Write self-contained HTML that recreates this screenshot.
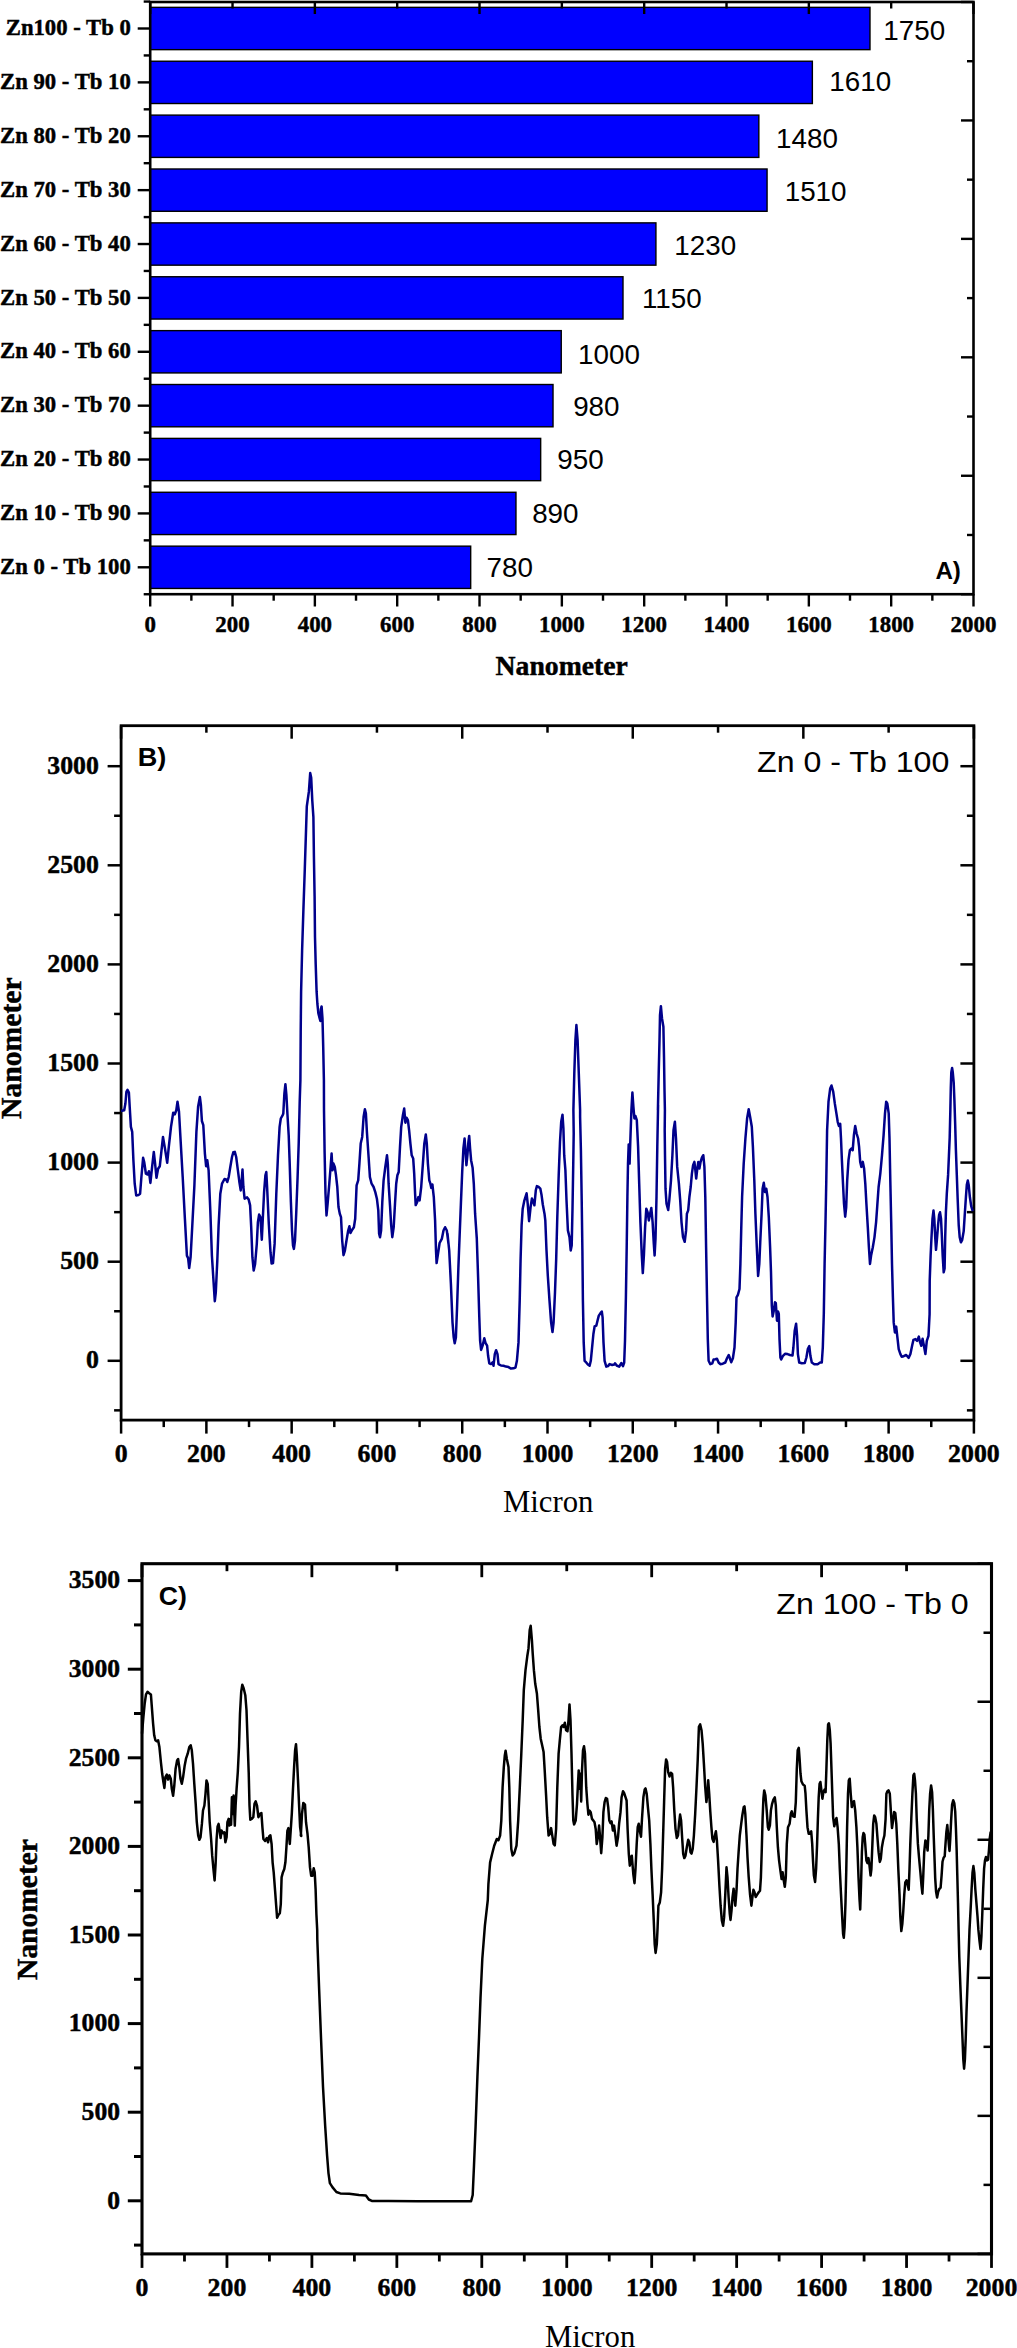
<!DOCTYPE html>
<html><head><meta charset="utf-8"><title>Figure</title>
<style>html,body{margin:0;padding:0;background:#fff}svg{display:block}</style></head>
<body><svg width="1017" height="2348" viewBox="0 0 1017 2348">
<rect width="1017" height="2348" fill="#fff"/>
<rect x="150.20" y="7.35" width="719.79" height="42.30" fill="#0000ff" stroke="#000" stroke-width="1.4"/>
<text x="883.28" y="39.60" font-size="27.8" text-anchor="start" font-family='"Liberation Sans", sans-serif' font-weight="normal" >1750</text>
<text x="130.80" y="35.10" font-size="22.7" text-anchor="end" font-family='"Liberation Serif", serif' font-weight="bold"  stroke="#000" stroke-width="0.45">Zn100 - Tb 0</text>
<line x1="137.70" y1="28.50" x2="150.20" y2="28.50" stroke="#000" stroke-width="2.4"/>
<line x1="143.70" y1="55.44" x2="150.20" y2="55.44" stroke="#000" stroke-width="2.4"/>
<rect x="150.20" y="61.23" width="662.16" height="42.30" fill="#0000ff" stroke="#000" stroke-width="1.4"/>
<text x="829.28" y="91.40" font-size="27.8" text-anchor="start" font-family='"Liberation Sans", sans-serif' font-weight="normal" >1610</text>
<text x="130.80" y="88.98" font-size="22.7" text-anchor="end" font-family='"Liberation Serif", serif' font-weight="bold"  stroke="#000" stroke-width="0.45">Zn 90 - Tb 10</text>
<line x1="137.70" y1="82.38" x2="150.20" y2="82.38" stroke="#000" stroke-width="2.4"/>
<line x1="143.70" y1="109.32" x2="150.20" y2="109.32" stroke="#000" stroke-width="2.4"/>
<rect x="150.20" y="115.11" width="608.64" height="42.30" fill="#0000ff" stroke="#000" stroke-width="1.4"/>
<text x="776.08" y="147.70" font-size="27.8" text-anchor="start" font-family='"Liberation Sans", sans-serif' font-weight="normal" >1480</text>
<text x="130.80" y="142.86" font-size="22.7" text-anchor="end" font-family='"Liberation Serif", serif' font-weight="bold"  stroke="#000" stroke-width="0.45">Zn 80 - Tb 20</text>
<line x1="137.70" y1="136.26" x2="150.20" y2="136.26" stroke="#000" stroke-width="2.4"/>
<line x1="143.70" y1="163.20" x2="150.20" y2="163.20" stroke="#000" stroke-width="2.4"/>
<rect x="150.20" y="168.99" width="616.87" height="42.30" fill="#0000ff" stroke="#000" stroke-width="1.4"/>
<text x="784.68" y="201.20" font-size="27.8" text-anchor="start" font-family='"Liberation Sans", sans-serif' font-weight="normal" >1510</text>
<text x="130.80" y="196.74" font-size="22.7" text-anchor="end" font-family='"Liberation Serif", serif' font-weight="bold"  stroke="#000" stroke-width="0.45">Zn 70 - Tb 30</text>
<line x1="137.70" y1="190.14" x2="150.20" y2="190.14" stroke="#000" stroke-width="2.4"/>
<line x1="143.70" y1="217.08" x2="150.20" y2="217.08" stroke="#000" stroke-width="2.4"/>
<rect x="150.20" y="222.87" width="505.73" height="42.30" fill="#0000ff" stroke="#000" stroke-width="1.4"/>
<text x="674.28" y="255.10" font-size="27.8" text-anchor="start" font-family='"Liberation Sans", sans-serif' font-weight="normal" >1230</text>
<text x="130.80" y="250.62" font-size="22.7" text-anchor="end" font-family='"Liberation Serif", serif' font-weight="bold"  stroke="#000" stroke-width="0.45">Zn 60 - Tb 40</text>
<line x1="137.70" y1="244.02" x2="150.20" y2="244.02" stroke="#000" stroke-width="2.4"/>
<line x1="143.70" y1="270.96" x2="150.20" y2="270.96" stroke="#000" stroke-width="2.4"/>
<rect x="150.20" y="276.75" width="472.80" height="42.30" fill="#0000ff" stroke="#000" stroke-width="1.4"/>
<text x="641.88" y="307.80" font-size="27.8" text-anchor="start" font-family='"Liberation Sans", sans-serif' font-weight="normal" >1150</text>
<text x="130.80" y="304.50" font-size="22.7" text-anchor="end" font-family='"Liberation Serif", serif' font-weight="bold"  stroke="#000" stroke-width="0.45">Zn 50 - Tb 50</text>
<line x1="137.70" y1="297.90" x2="150.20" y2="297.90" stroke="#000" stroke-width="2.4"/>
<line x1="143.70" y1="324.84" x2="150.20" y2="324.84" stroke="#000" stroke-width="2.4"/>
<rect x="150.20" y="330.63" width="411.05" height="42.30" fill="#0000ff" stroke="#000" stroke-width="1.4"/>
<text x="578.08" y="363.60" font-size="27.8" text-anchor="start" font-family='"Liberation Sans", sans-serif' font-weight="normal" >1000</text>
<text x="130.80" y="358.38" font-size="22.7" text-anchor="end" font-family='"Liberation Serif", serif' font-weight="bold"  stroke="#000" stroke-width="0.45">Zn 40 - Tb 60</text>
<line x1="137.70" y1="351.78" x2="150.20" y2="351.78" stroke="#000" stroke-width="2.4"/>
<line x1="143.70" y1="378.72" x2="150.20" y2="378.72" stroke="#000" stroke-width="2.4"/>
<rect x="150.20" y="384.51" width="402.82" height="42.30" fill="#0000ff" stroke="#000" stroke-width="1.4"/>
<text x="573.15" y="415.90" font-size="27.8" text-anchor="start" font-family='"Liberation Sans", sans-serif' font-weight="normal" >980</text>
<text x="130.80" y="412.26" font-size="22.7" text-anchor="end" font-family='"Liberation Serif", serif' font-weight="bold"  stroke="#000" stroke-width="0.45">Zn 30 - Tb 70</text>
<line x1="137.70" y1="405.66" x2="150.20" y2="405.66" stroke="#000" stroke-width="2.4"/>
<line x1="143.70" y1="432.60" x2="150.20" y2="432.60" stroke="#000" stroke-width="2.4"/>
<rect x="150.20" y="438.39" width="390.47" height="42.30" fill="#0000ff" stroke="#000" stroke-width="1.4"/>
<text x="557.35" y="468.80" font-size="27.8" text-anchor="start" font-family='"Liberation Sans", sans-serif' font-weight="normal" >950</text>
<text x="130.80" y="466.14" font-size="22.7" text-anchor="end" font-family='"Liberation Serif", serif' font-weight="bold"  stroke="#000" stroke-width="0.45">Zn 20 - Tb 80</text>
<line x1="137.70" y1="459.54" x2="150.20" y2="459.54" stroke="#000" stroke-width="2.4"/>
<line x1="143.70" y1="486.48" x2="150.20" y2="486.48" stroke="#000" stroke-width="2.4"/>
<rect x="150.20" y="492.27" width="365.77" height="42.30" fill="#0000ff" stroke="#000" stroke-width="1.4"/>
<text x="532.15" y="522.70" font-size="27.8" text-anchor="start" font-family='"Liberation Sans", sans-serif' font-weight="normal" >890</text>
<text x="130.80" y="520.02" font-size="22.7" text-anchor="end" font-family='"Liberation Serif", serif' font-weight="bold"  stroke="#000" stroke-width="0.45">Zn 10 - Tb 90</text>
<line x1="137.70" y1="513.42" x2="150.20" y2="513.42" stroke="#000" stroke-width="2.4"/>
<line x1="143.70" y1="540.36" x2="150.20" y2="540.36" stroke="#000" stroke-width="2.4"/>
<rect x="150.20" y="546.15" width="320.49" height="42.30" fill="#0000ff" stroke="#000" stroke-width="1.4"/>
<text x="486.55" y="577.40" font-size="27.8" text-anchor="start" font-family='"Liberation Sans", sans-serif' font-weight="normal" >780</text>
<text x="130.80" y="573.90" font-size="22.7" text-anchor="end" font-family='"Liberation Serif", serif' font-weight="bold"  stroke="#000" stroke-width="0.45">Zn 0 - Tb 100</text>
<line x1="137.70" y1="567.30" x2="150.20" y2="567.30" stroke="#000" stroke-width="2.4"/>
<line x1="143.70" y1="1.56" x2="150.20" y2="1.56" stroke="#000" stroke-width="2.4"/>
<line x1="143.70" y1="594.24" x2="150.20" y2="594.24" stroke="#000" stroke-width="2.4"/>
<rect x="150.2" y="2.0" width="823.3" height="592.2" fill="none" stroke="#000" stroke-width="2.6"/>
<line x1="150.20" y1="594.20" x2="150.20" y2="606.50" stroke="#000" stroke-width="2.4"/>
<text x="150.20" y="631.60" font-size="22.9" text-anchor="middle" font-family='"Liberation Serif", serif' font-weight="bold"  stroke="#000" stroke-width="0.45">0</text>
<line x1="191.36" y1="594.20" x2="191.36" y2="600.70" stroke="#000" stroke-width="2.4"/>
<line x1="232.53" y1="594.20" x2="232.53" y2="606.50" stroke="#000" stroke-width="2.4"/>
<text x="232.53" y="631.60" font-size="22.9" text-anchor="middle" font-family='"Liberation Serif", serif' font-weight="bold"  stroke="#000" stroke-width="0.45">200</text>
<line x1="273.69" y1="594.20" x2="273.69" y2="600.70" stroke="#000" stroke-width="2.4"/>
<line x1="314.86" y1="594.20" x2="314.86" y2="606.50" stroke="#000" stroke-width="2.4"/>
<text x="314.86" y="631.60" font-size="22.9" text-anchor="middle" font-family='"Liberation Serif", serif' font-weight="bold"  stroke="#000" stroke-width="0.45">400</text>
<line x1="356.02" y1="594.20" x2="356.02" y2="600.70" stroke="#000" stroke-width="2.4"/>
<line x1="397.19" y1="594.20" x2="397.19" y2="606.50" stroke="#000" stroke-width="2.4"/>
<text x="397.19" y="631.60" font-size="22.9" text-anchor="middle" font-family='"Liberation Serif", serif' font-weight="bold"  stroke="#000" stroke-width="0.45">600</text>
<line x1="438.35" y1="594.20" x2="438.35" y2="600.70" stroke="#000" stroke-width="2.4"/>
<line x1="479.52" y1="594.20" x2="479.52" y2="606.50" stroke="#000" stroke-width="2.4"/>
<text x="479.52" y="631.60" font-size="22.9" text-anchor="middle" font-family='"Liberation Serif", serif' font-weight="bold"  stroke="#000" stroke-width="0.45">800</text>
<line x1="520.68" y1="594.20" x2="520.68" y2="600.70" stroke="#000" stroke-width="2.4"/>
<line x1="561.85" y1="594.20" x2="561.85" y2="606.50" stroke="#000" stroke-width="2.4"/>
<text x="561.85" y="631.60" font-size="22.9" text-anchor="middle" font-family='"Liberation Serif", serif' font-weight="bold"  stroke="#000" stroke-width="0.45">1000</text>
<line x1="603.01" y1="594.20" x2="603.01" y2="600.70" stroke="#000" stroke-width="2.4"/>
<line x1="644.18" y1="594.20" x2="644.18" y2="606.50" stroke="#000" stroke-width="2.4"/>
<text x="644.18" y="631.60" font-size="22.9" text-anchor="middle" font-family='"Liberation Serif", serif' font-weight="bold"  stroke="#000" stroke-width="0.45">1200</text>
<line x1="685.35" y1="594.20" x2="685.35" y2="600.70" stroke="#000" stroke-width="2.4"/>
<line x1="726.51" y1="594.20" x2="726.51" y2="606.50" stroke="#000" stroke-width="2.4"/>
<text x="726.51" y="631.60" font-size="22.9" text-anchor="middle" font-family='"Liberation Serif", serif' font-weight="bold"  stroke="#000" stroke-width="0.45">1400</text>
<line x1="767.67" y1="594.20" x2="767.67" y2="600.70" stroke="#000" stroke-width="2.4"/>
<line x1="808.84" y1="594.20" x2="808.84" y2="606.50" stroke="#000" stroke-width="2.4"/>
<text x="808.84" y="631.60" font-size="22.9" text-anchor="middle" font-family='"Liberation Serif", serif' font-weight="bold"  stroke="#000" stroke-width="0.45">1600</text>
<line x1="850.00" y1="594.20" x2="850.00" y2="600.70" stroke="#000" stroke-width="2.4"/>
<line x1="891.17" y1="594.20" x2="891.17" y2="606.50" stroke="#000" stroke-width="2.4"/>
<text x="891.17" y="631.60" font-size="22.9" text-anchor="middle" font-family='"Liberation Serif", serif' font-weight="bold"  stroke="#000" stroke-width="0.45">1800</text>
<line x1="932.34" y1="594.20" x2="932.34" y2="600.70" stroke="#000" stroke-width="2.4"/>
<line x1="973.50" y1="594.20" x2="973.50" y2="606.50" stroke="#000" stroke-width="2.4"/>
<text x="973.50" y="631.60" font-size="22.9" text-anchor="middle" font-family='"Liberation Serif", serif' font-weight="bold"  stroke="#000" stroke-width="0.45">2000</text>
<line x1="150.20" y1="2.00" x2="150.20" y2="14.00" stroke="#000" stroke-width="2.4"/>
<line x1="232.53" y1="2.00" x2="232.53" y2="8.50" stroke="#000" stroke-width="2.4"/>
<line x1="314.86" y1="2.00" x2="314.86" y2="14.00" stroke="#000" stroke-width="2.4"/>
<line x1="397.19" y1="2.00" x2="397.19" y2="8.50" stroke="#000" stroke-width="2.4"/>
<line x1="479.52" y1="2.00" x2="479.52" y2="14.00" stroke="#000" stroke-width="2.4"/>
<line x1="561.85" y1="2.00" x2="561.85" y2="8.50" stroke="#000" stroke-width="2.4"/>
<line x1="644.18" y1="2.00" x2="644.18" y2="14.00" stroke="#000" stroke-width="2.4"/>
<line x1="726.51" y1="2.00" x2="726.51" y2="8.50" stroke="#000" stroke-width="2.4"/>
<line x1="808.84" y1="2.00" x2="808.84" y2="14.00" stroke="#000" stroke-width="2.4"/>
<line x1="891.17" y1="2.00" x2="891.17" y2="8.50" stroke="#000" stroke-width="2.4"/>
<line x1="973.50" y1="2.00" x2="973.50" y2="14.00" stroke="#000" stroke-width="2.4"/>
<line x1="961.00" y1="2.00" x2="973.50" y2="2.00" stroke="#000" stroke-width="2.4"/>
<line x1="967.00" y1="61.22" x2="973.50" y2="61.22" stroke="#000" stroke-width="2.4"/>
<line x1="961.00" y1="120.44" x2="973.50" y2="120.44" stroke="#000" stroke-width="2.4"/>
<line x1="967.00" y1="179.66" x2="973.50" y2="179.66" stroke="#000" stroke-width="2.4"/>
<line x1="961.00" y1="238.88" x2="973.50" y2="238.88" stroke="#000" stroke-width="2.4"/>
<line x1="967.00" y1="298.10" x2="973.50" y2="298.10" stroke="#000" stroke-width="2.4"/>
<line x1="961.00" y1="357.32" x2="973.50" y2="357.32" stroke="#000" stroke-width="2.4"/>
<line x1="967.00" y1="416.54" x2="973.50" y2="416.54" stroke="#000" stroke-width="2.4"/>
<line x1="961.00" y1="475.76" x2="973.50" y2="475.76" stroke="#000" stroke-width="2.4"/>
<line x1="967.00" y1="534.98" x2="973.50" y2="534.98" stroke="#000" stroke-width="2.4"/>
<line x1="961.00" y1="594.20" x2="973.50" y2="594.20" stroke="#000" stroke-width="2.4"/>
<text x="561.70" y="675.40" font-size="27.7" text-anchor="middle" font-family='"Liberation Serif", serif' font-weight="bold"  stroke="#000" stroke-width="0.45">Nanometer</text>
<text x="935.40" y="578.60" font-size="24.2" text-anchor="start" font-family='"Liberation Sans", sans-serif' font-weight="bold" >A)</text>
<rect x="121.1" y="725.7" width="852.8" height="694.3999999999999" fill="none" stroke="#000" stroke-width="2.8"/>
<line x1="121.10" y1="1420.10" x2="121.10" y2="1433.60" stroke="#000" stroke-width="2.5"/>
<text x="121.10" y="1461.60" font-size="25.8" text-anchor="middle" font-family='"Liberation Serif", serif' font-weight="bold"  stroke="#000" stroke-width="0.45">0</text>
<line x1="163.74" y1="1420.10" x2="163.74" y2="1427.10" stroke="#000" stroke-width="2.5"/>
<line x1="206.38" y1="1420.10" x2="206.38" y2="1433.60" stroke="#000" stroke-width="2.5"/>
<text x="206.38" y="1461.60" font-size="25.8" text-anchor="middle" font-family='"Liberation Serif", serif' font-weight="bold"  stroke="#000" stroke-width="0.45">200</text>
<line x1="249.02" y1="1420.10" x2="249.02" y2="1427.10" stroke="#000" stroke-width="2.5"/>
<line x1="291.66" y1="1420.10" x2="291.66" y2="1433.60" stroke="#000" stroke-width="2.5"/>
<text x="291.66" y="1461.60" font-size="25.8" text-anchor="middle" font-family='"Liberation Serif", serif' font-weight="bold"  stroke="#000" stroke-width="0.45">400</text>
<line x1="334.30" y1="1420.10" x2="334.30" y2="1427.10" stroke="#000" stroke-width="2.5"/>
<line x1="376.94" y1="1420.10" x2="376.94" y2="1433.60" stroke="#000" stroke-width="2.5"/>
<text x="376.94" y="1461.60" font-size="25.8" text-anchor="middle" font-family='"Liberation Serif", serif' font-weight="bold"  stroke="#000" stroke-width="0.45">600</text>
<line x1="419.58" y1="1420.10" x2="419.58" y2="1427.10" stroke="#000" stroke-width="2.5"/>
<line x1="462.22" y1="1420.10" x2="462.22" y2="1433.60" stroke="#000" stroke-width="2.5"/>
<text x="462.22" y="1461.60" font-size="25.8" text-anchor="middle" font-family='"Liberation Serif", serif' font-weight="bold"  stroke="#000" stroke-width="0.45">800</text>
<line x1="504.86" y1="1420.10" x2="504.86" y2="1427.10" stroke="#000" stroke-width="2.5"/>
<line x1="547.50" y1="1420.10" x2="547.50" y2="1433.60" stroke="#000" stroke-width="2.5"/>
<text x="547.50" y="1461.60" font-size="25.8" text-anchor="middle" font-family='"Liberation Serif", serif' font-weight="bold"  stroke="#000" stroke-width="0.45">1000</text>
<line x1="590.14" y1="1420.10" x2="590.14" y2="1427.10" stroke="#000" stroke-width="2.5"/>
<line x1="632.78" y1="1420.10" x2="632.78" y2="1433.60" stroke="#000" stroke-width="2.5"/>
<text x="632.78" y="1461.60" font-size="25.8" text-anchor="middle" font-family='"Liberation Serif", serif' font-weight="bold"  stroke="#000" stroke-width="0.45">1200</text>
<line x1="675.42" y1="1420.10" x2="675.42" y2="1427.10" stroke="#000" stroke-width="2.5"/>
<line x1="718.06" y1="1420.10" x2="718.06" y2="1433.60" stroke="#000" stroke-width="2.5"/>
<text x="718.06" y="1461.60" font-size="25.8" text-anchor="middle" font-family='"Liberation Serif", serif' font-weight="bold"  stroke="#000" stroke-width="0.45">1400</text>
<line x1="760.70" y1="1420.10" x2="760.70" y2="1427.10" stroke="#000" stroke-width="2.5"/>
<line x1="803.34" y1="1420.10" x2="803.34" y2="1433.60" stroke="#000" stroke-width="2.5"/>
<text x="803.34" y="1461.60" font-size="25.8" text-anchor="middle" font-family='"Liberation Serif", serif' font-weight="bold"  stroke="#000" stroke-width="0.45">1600</text>
<line x1="845.98" y1="1420.10" x2="845.98" y2="1427.10" stroke="#000" stroke-width="2.5"/>
<line x1="888.62" y1="1420.10" x2="888.62" y2="1433.60" stroke="#000" stroke-width="2.5"/>
<text x="888.62" y="1461.60" font-size="25.8" text-anchor="middle" font-family='"Liberation Serif", serif' font-weight="bold"  stroke="#000" stroke-width="0.45">1800</text>
<line x1="931.26" y1="1420.10" x2="931.26" y2="1427.10" stroke="#000" stroke-width="2.5"/>
<line x1="973.90" y1="1420.10" x2="973.90" y2="1433.60" stroke="#000" stroke-width="2.5"/>
<text x="973.90" y="1461.60" font-size="25.8" text-anchor="middle" font-family='"Liberation Serif", serif' font-weight="bold"  stroke="#000" stroke-width="0.45">2000</text>
<line x1="121.10" y1="725.70" x2="121.10" y2="738.70" stroke="#000" stroke-width="2.5"/>
<line x1="206.38" y1="725.70" x2="206.38" y2="732.70" stroke="#000" stroke-width="2.5"/>
<line x1="291.66" y1="725.70" x2="291.66" y2="738.70" stroke="#000" stroke-width="2.5"/>
<line x1="376.94" y1="725.70" x2="376.94" y2="732.70" stroke="#000" stroke-width="2.5"/>
<line x1="462.22" y1="725.70" x2="462.22" y2="738.70" stroke="#000" stroke-width="2.5"/>
<line x1="547.50" y1="725.70" x2="547.50" y2="732.70" stroke="#000" stroke-width="2.5"/>
<line x1="632.78" y1="725.70" x2="632.78" y2="738.70" stroke="#000" stroke-width="2.5"/>
<line x1="718.06" y1="725.70" x2="718.06" y2="732.70" stroke="#000" stroke-width="2.5"/>
<line x1="803.34" y1="725.70" x2="803.34" y2="738.70" stroke="#000" stroke-width="2.5"/>
<line x1="888.62" y1="725.70" x2="888.62" y2="732.70" stroke="#000" stroke-width="2.5"/>
<line x1="973.90" y1="725.70" x2="973.90" y2="738.70" stroke="#000" stroke-width="2.5"/>
<line x1="114.10" y1="1410.35" x2="121.10" y2="1410.35" stroke="#000" stroke-width="2.5"/>
<line x1="966.90" y1="1410.35" x2="973.90" y2="1410.35" stroke="#000" stroke-width="2.5"/>
<line x1="107.60" y1="1360.80" x2="121.10" y2="1360.80" stroke="#000" stroke-width="2.5"/>
<line x1="960.40" y1="1360.80" x2="973.90" y2="1360.80" stroke="#000" stroke-width="2.5"/>
<text x="98.90" y="1368.40" font-size="25.8" text-anchor="end" font-family='"Liberation Serif", serif' font-weight="bold"  stroke="#000" stroke-width="0.45">0</text>
<line x1="114.10" y1="1311.25" x2="121.10" y2="1311.25" stroke="#000" stroke-width="2.5"/>
<line x1="966.90" y1="1311.25" x2="973.90" y2="1311.25" stroke="#000" stroke-width="2.5"/>
<line x1="107.60" y1="1261.70" x2="121.10" y2="1261.70" stroke="#000" stroke-width="2.5"/>
<line x1="960.40" y1="1261.70" x2="973.90" y2="1261.70" stroke="#000" stroke-width="2.5"/>
<text x="98.90" y="1269.30" font-size="25.8" text-anchor="end" font-family='"Liberation Serif", serif' font-weight="bold"  stroke="#000" stroke-width="0.45">500</text>
<line x1="114.10" y1="1212.15" x2="121.10" y2="1212.15" stroke="#000" stroke-width="2.5"/>
<line x1="966.90" y1="1212.15" x2="973.90" y2="1212.15" stroke="#000" stroke-width="2.5"/>
<line x1="107.60" y1="1162.60" x2="121.10" y2="1162.60" stroke="#000" stroke-width="2.5"/>
<line x1="960.40" y1="1162.60" x2="973.90" y2="1162.60" stroke="#000" stroke-width="2.5"/>
<text x="98.90" y="1170.20" font-size="25.8" text-anchor="end" font-family='"Liberation Serif", serif' font-weight="bold"  stroke="#000" stroke-width="0.45">1000</text>
<line x1="114.10" y1="1113.05" x2="121.10" y2="1113.05" stroke="#000" stroke-width="2.5"/>
<line x1="966.90" y1="1113.05" x2="973.90" y2="1113.05" stroke="#000" stroke-width="2.5"/>
<line x1="107.60" y1="1063.50" x2="121.10" y2="1063.50" stroke="#000" stroke-width="2.5"/>
<line x1="960.40" y1="1063.50" x2="973.90" y2="1063.50" stroke="#000" stroke-width="2.5"/>
<text x="98.90" y="1071.10" font-size="25.8" text-anchor="end" font-family='"Liberation Serif", serif' font-weight="bold"  stroke="#000" stroke-width="0.45">1500</text>
<line x1="114.10" y1="1013.95" x2="121.10" y2="1013.95" stroke="#000" stroke-width="2.5"/>
<line x1="966.90" y1="1013.95" x2="973.90" y2="1013.95" stroke="#000" stroke-width="2.5"/>
<line x1="107.60" y1="964.40" x2="121.10" y2="964.40" stroke="#000" stroke-width="2.5"/>
<line x1="960.40" y1="964.40" x2="973.90" y2="964.40" stroke="#000" stroke-width="2.5"/>
<text x="98.90" y="972.00" font-size="25.8" text-anchor="end" font-family='"Liberation Serif", serif' font-weight="bold"  stroke="#000" stroke-width="0.45">2000</text>
<line x1="114.10" y1="914.85" x2="121.10" y2="914.85" stroke="#000" stroke-width="2.5"/>
<line x1="966.90" y1="914.85" x2="973.90" y2="914.85" stroke="#000" stroke-width="2.5"/>
<line x1="107.60" y1="865.30" x2="121.10" y2="865.30" stroke="#000" stroke-width="2.5"/>
<line x1="960.40" y1="865.30" x2="973.90" y2="865.30" stroke="#000" stroke-width="2.5"/>
<text x="98.90" y="872.90" font-size="25.8" text-anchor="end" font-family='"Liberation Serif", serif' font-weight="bold"  stroke="#000" stroke-width="0.45">2500</text>
<line x1="114.10" y1="815.75" x2="121.10" y2="815.75" stroke="#000" stroke-width="2.5"/>
<line x1="966.90" y1="815.75" x2="973.90" y2="815.75" stroke="#000" stroke-width="2.5"/>
<line x1="107.60" y1="766.20" x2="121.10" y2="766.20" stroke="#000" stroke-width="2.5"/>
<line x1="960.40" y1="766.20" x2="973.90" y2="766.20" stroke="#000" stroke-width="2.5"/>
<text x="98.90" y="773.80" font-size="25.8" text-anchor="end" font-family='"Liberation Serif", serif' font-weight="bold"  stroke="#000" stroke-width="0.45">3000</text>
<text x="548.20" y="1511.80" font-size="30.7" text-anchor="middle" font-family='"Liberation Serif", serif' font-weight="normal" >Micron</text>
<text transform="translate(21.1,1048.2) rotate(-90)" font-size="29.7" text-anchor="middle" font-family='"Liberation Serif", serif' font-weight="bold" stroke="#000" stroke-width="0.45">Nanometer</text>
<text x="137.80" y="766.40" font-size="26.6" text-anchor="start" font-family='"Liberation Sans", sans-serif' font-weight="bold" textLength="28.6" lengthAdjust="spacingAndGlyphs">B)</text>
<text x="757.00" y="772.10" font-size="30.3" text-anchor="start" font-family='"Liberation Sans", sans-serif' font-weight="normal" textLength="192.3" lengthAdjust="spacingAndGlyphs">Zn 0 - Tb 100</text>
<polyline fill="none" stroke="#00008b" stroke-width="2.5" stroke-linejoin="round" points="121.0,1111.0 124.2,1110.2 125.4,1103.5 126.4,1091.8 127.5,1089.8 128.9,1092.6 129.7,1106.8 130.9,1126.9 132.2,1131.9 133.4,1160.3 134.7,1183.7 136.2,1195.4 138.4,1195.1 140.1,1193.7 141.4,1177.0 143.1,1157.8 144.2,1162.0 145.9,1173.7 147.6,1174.5 148.9,1171.2 150.4,1182.9 152.1,1167.0 153.8,1151.9 155.1,1163.6 156.5,1177.8 158.1,1168.7 159.8,1166.2 161.5,1150.3 163.0,1136.9 164.7,1146.9 167.2,1162.8 168.8,1146.9 171.0,1126.9 173.2,1112.7 174.8,1114.3 176.3,1110.2 177.5,1101.8 179.0,1111.8 180.5,1138.6 182.7,1177.0 184.9,1218.8 186.9,1255.6 188.1,1258.1 189.2,1268.1 190.6,1257.2 192.2,1227.2 194.4,1185.4 196.4,1131.9 198.1,1106.8 199.9,1097.1 200.9,1105.1 201.9,1121.0 203.3,1125.2 204.9,1153.6 206.1,1166.2 207.3,1160.3 208.6,1170.3 210.3,1210.4 211.9,1255.6 213.6,1282.3 214.8,1301.2 215.8,1292.3 217.3,1260.6 218.6,1225.5 220.3,1193.7 222.0,1183.7 224.5,1179.0 226.2,1179.5 227.3,1182.0 228.7,1177.0 230.3,1167.0 232.0,1157.0 233.3,1152.3 234.8,1151.9 236.2,1157.0 237.9,1170.3 239.5,1182.9 240.7,1190.4 241.7,1180.3 242.5,1169.5 243.4,1187.0 244.6,1198.7 247.1,1197.4 248.7,1199.6 250.1,1205.4 251.2,1227.2 252.4,1257.2 253.7,1270.6 255.1,1263.9 256.8,1243.9 257.9,1222.1 259.1,1214.6 260.4,1217.1 261.8,1239.7 262.8,1218.8 264.1,1192.1 265.4,1175.3 266.3,1172.0 267.1,1187.0 268.8,1223.8 270.5,1252.2 271.6,1263.6 273.0,1263.1 274.6,1243.9 276.3,1193.7 278.0,1155.3 279.6,1126.9 280.8,1118.5 282.7,1115.2 283.3,1113.5 284.4,1093.4 285.4,1084.2 286.4,1095.1 287.5,1115.2 288.7,1135.2 289.7,1163.6 290.9,1202.1 292.0,1230.5 293.0,1245.5 293.9,1248.9 295.0,1240.5 296.2,1213.8 297.6,1177.0 298.7,1143.6 299.7,1101.8 300.4,1080.1 300.7,1032.6 301.1,991.7 302.1,950.8 303.4,909.9 304.8,869.0 306.1,828.1 306.8,806.3 308.9,791.4 310.2,773.0 311.2,777.7 312.3,800.9 313.4,817.2 313.9,855.4 314.6,896.3 315.0,937.2 315.7,964.4 316.6,991.7 317.4,1004.0 318.4,1013.5 319.8,1018.9 320.4,1021.0 320.9,1009.4 321.6,1006.4 322.5,1018.9 323.2,1046.2 323.9,1080.0 324.0,1110.2 324.6,1151.9 325.5,1193.7 326.5,1215.5 327.6,1203.8 329.3,1183.7 330.6,1167.0 331.6,1153.6 332.5,1170.3 333.5,1163.6 334.8,1167.0 336.0,1175.3 337.3,1187.0 338.5,1207.1 339.8,1213.8 341.0,1217.1 342.2,1240.5 343.5,1255.2 344.9,1250.6 346.5,1240.5 348.2,1230.5 349.4,1226.3 350.5,1233.0 352.2,1229.7 353.9,1227.2 355.2,1218.8 356.6,1185.4 358.2,1180.3 359.4,1163.6 360.7,1143.6 362.2,1136.9 363.6,1116.8 364.9,1109.3 365.9,1113.5 366.9,1131.9 368.6,1157.0 369.9,1177.0 371.6,1183.7 373.6,1187.0 375.3,1192.1 376.9,1198.7 378.3,1210.4 379.1,1233.8 380.0,1237.2 381.1,1230.5 382.3,1202.1 383.6,1180.3 385.3,1167.0 387.0,1155.3 387.8,1163.6 388.6,1183.7 390.0,1205.4 391.2,1225.5 392.3,1237.2 393.7,1227.2 395.0,1203.8 396.2,1183.7 397.4,1175.3 398.7,1172.0 400.0,1146.9 401.2,1126.9 402.9,1115.2 404.2,1108.5 405.4,1122.7 406.5,1117.7 407.9,1120.2 409.1,1130.2 410.4,1143.6 411.7,1155.3 413.2,1158.6 414.2,1173.7 415.1,1193.7 415.7,1205.1 417.1,1202.1 418.4,1197.1 419.6,1200.4 421.2,1187.0 422.9,1163.6 424.3,1143.6 425.8,1134.4 426.8,1143.6 427.9,1163.6 429.3,1180.3 430.4,1183.7 431.3,1187.9 432.4,1184.5 433.8,1197.1 435.1,1220.5 436.0,1250.6 436.6,1263.1 438.0,1253.9 439.6,1243.0 441.8,1238.9 443.5,1230.5 445.1,1227.2 446.8,1230.5 448.5,1243.9 447.5,1233.7 449.2,1250.4 450.9,1283.9 452.5,1322.3 453.7,1337.4 454.7,1343.2 455.9,1337.4 457.0,1309.0 458.4,1267.2 459.7,1233.7 460.9,1203.6 462.2,1171.9 463.4,1148.5 464.6,1138.5 465.4,1150.2 466.4,1165.2 467.4,1155.2 468.4,1141.8 469.2,1135.9 470.1,1148.5 471.1,1160.2 472.6,1167.7 473.8,1183.6 475.1,1213.7 476.8,1238.7 478.1,1277.2 479.3,1317.3 480.1,1340.7 481.1,1349.9 482.6,1345.7 484.3,1338.2 485.6,1343.2 487.1,1345.7 488.1,1355.8 489.3,1363.3 491.0,1364.1 492.6,1362.4 493.5,1365.8 494.8,1354.1 496.1,1350.2 497.5,1354.1 498.5,1364.1 501.0,1365.5 503.5,1365.8 506.0,1366.6 508.5,1367.1 511.0,1368.6 513.5,1368.3 515.5,1367.5 516.9,1360.8 518.5,1342.4 519.7,1300.6 520.6,1258.8 521.6,1225.4 522.7,1208.7 524.4,1200.3 526.6,1193.3 527.7,1203.6 529.1,1221.2 530.6,1207.0 531.9,1198.6 533.3,1202.0 534.4,1205.3 535.8,1190.3 536.9,1186.1 538.6,1186.9 540.3,1188.6 541.6,1195.3 542.8,1204.5 544.5,1213.7 545.3,1220.3 546.5,1250.4 547.8,1275.5 549.5,1300.6 551.1,1322.3 552.5,1332.0 553.6,1322.3 555.0,1292.2 556.2,1258.8 557.3,1217.0 558.7,1175.2 560.0,1141.8 561.2,1121.7 562.5,1114.7 563.4,1128.4 564.2,1155.2 565.4,1170.2 566.5,1200.3 567.9,1230.4 569.5,1237.1 570.7,1250.4 571.7,1245.4 572.5,1208.7 573.2,1166.9 573.7,1133.4 573.4,1110.0 574.3,1073.6 575.4,1040.2 576.4,1025.1 577.6,1040.2 578.8,1073.6 580.1,1110.0 580.1,1116.7 580.9,1150.2 581.7,1200.3 582.4,1250.4 582.9,1300.6 583.7,1342.4 584.6,1360.8 586.2,1362.4 587.9,1364.6 589.6,1365.8 590.8,1360.8 592.1,1347.4 593.4,1334.0 594.6,1326.5 596.3,1325.7 597.5,1320.7 598.8,1315.6 600.5,1313.1 601.8,1311.5 602.6,1317.3 603.5,1342.4 604.6,1360.8 606.3,1366.6 608.0,1366.1 609.6,1364.1 612.2,1365.0 614.2,1364.6 615.0,1363.3 616.7,1365.5 619.2,1366.7 621.4,1363.0 623.0,1366.2 624.2,1362.5 625.0,1340.8 625.9,1297.3 626.7,1247.2 627.4,1197.0 628.0,1163.6 628.7,1144.4 629.6,1163.6 630.4,1138.5 631.4,1110.1 632.4,1092.5 633.4,1106.8 634.4,1118.5 635.4,1115.9 636.8,1120.1 638.1,1146.9 639.2,1183.6 640.4,1222.1 641.8,1255.5 642.8,1273.1 643.9,1255.5 645.1,1227.1 646.3,1208.7 647.6,1212.1 648.8,1220.4 650.1,1213.7 651.3,1207.9 652.6,1222.1 653.8,1243.8 654.6,1255.5 655.5,1238.8 656.5,1197.0 657.3,1146.9 658.1,1105.1 657.9,1110.0 658.7,1073.6 659.5,1040.2 660.0,1015.1 660.9,1006.2 662.0,1018.4 663.4,1026.8 664.0,1056.9 664.5,1090.3 664.9,1110.0 664.7,1130.2 665.0,1155.2 665.5,1188.7 666.5,1203.7 668.2,1210.0 669.3,1200.3 671.0,1180.3 672.4,1155.2 673.5,1130.2 674.9,1121.8 676.0,1138.5 677.2,1166.9 678.9,1183.6 680.2,1200.3 681.5,1222.1 683.0,1237.1 684.7,1241.8 686.1,1230.4 686.9,1213.7 688.2,1210.4 689.4,1197.0 690.7,1187.0 691.9,1173.6 693.1,1165.2 694.4,1161.9 695.2,1168.6 696.2,1178.6 697.3,1168.6 698.3,1161.9 699.4,1168.6 700.6,1161.9 701.9,1157.7 703.3,1155.2 704.4,1166.9 705.3,1197.0 706.1,1247.2 707.0,1297.3 707.8,1339.1 708.6,1360.8 710.3,1364.2 712.3,1363.3 713.6,1359.5 715.3,1359.2 717.0,1358.8 718.6,1362.5 720.3,1364.2 722.8,1363.7 725.3,1362.5 727.0,1358.3 728.7,1355.0 729.9,1358.3 731.2,1362.2 732.9,1358.3 734.5,1347.5 735.7,1322.4 736.5,1297.3 737.9,1294.8 739.5,1289.0 740.4,1263.9 741.2,1230.4 742.1,1197.0 743.7,1163.6 745.4,1138.5 747.1,1118.5 748.7,1109.2 750.1,1116.8 751.8,1126.8 752.9,1146.9 754.3,1180.3 755.4,1213.7 756.8,1247.2 758.1,1275.9 759.3,1263.9 760.4,1238.8 761.6,1213.7 762.6,1188.7 763.8,1182.8 765.0,1192.0 766.3,1188.7 767.5,1197.0 768.8,1217.1 770.1,1247.2 771.0,1272.2 771.8,1305.7 772.6,1316.5 773.8,1310.7 775.0,1302.3 775.8,1303.2 777.0,1320.7 778.0,1311.5 778.8,1314.0 779.5,1339.1 780.4,1357.5 781.2,1359.5 783.0,1355.8 785.0,1353.8 787.5,1354.1 790.0,1355.0 792.5,1355.5 793.4,1347.5 794.7,1330.7 796.1,1323.7 797.1,1335.8 797.9,1354.1 799.2,1362.5 801.8,1363.3 804.8,1363.0 806.4,1357.5 807.8,1349.1 809.3,1346.1 810.4,1355.8 811.8,1362.5 814.3,1364.2 817.6,1364.2 820.1,1362.5 821.8,1362.5 822.8,1347.5 823.8,1314.0 824.6,1263.9 825.5,1222.1 826.3,1180.3 827.1,1130.2 828.5,1101.7 830.2,1088.4 831.5,1085.5 833.2,1091.7 834.8,1103.4 836.4,1113.4 837.7,1121.8 838.9,1126.0 840.2,1123.8 841.0,1138.5 841.9,1160.2 843.0,1183.6 844.0,1203.7 845.2,1216.7 846.2,1207.0 847.2,1180.3 848.5,1160.2 849.9,1150.2 851.6,1148.5 852.7,1150.2 853.9,1135.2 855.2,1126.0 856.6,1133.5 858.1,1138.5 859.1,1146.9 860.2,1161.9 861.4,1166.9 862.8,1161.9 864.1,1168.6 865.3,1183.6 866.4,1203.7 867.8,1227.1 868.9,1247.2 870.0,1263.9 871.1,1255.5 872.8,1247.2 874.5,1237.1 876.1,1222.1 877.3,1205.4 878.6,1187.0 880.3,1173.6 882.0,1155.2 883.6,1135.2 885.0,1113.4 886.2,1101.7 887.3,1103.4 888.7,1113.4 889.5,1138.5 890.3,1180.3 891.2,1222.1 892.0,1263.9 892.9,1297.3 893.7,1322.4 894.9,1332.4 896.2,1326.6 897.4,1337.4 898.7,1349.1 900.4,1354.1 901.7,1356.7 903.7,1356.2 906.2,1355.0 908.7,1357.8 910.4,1354.1 912.1,1345.8 913.4,1339.9 915.4,1339.1 917.1,1340.8 918.8,1336.6 920.1,1342.4 921.3,1345.8 922.6,1338.8 923.8,1345.0 925.4,1354.1 926.8,1340.8 928.5,1335.8 929.6,1314.0 929.7,1281.0 930.6,1256.0 931.5,1237.3 932.5,1218.6 933.5,1210.5 934.3,1218.6 935.2,1237.3 936.0,1249.8 936.8,1241.1 938.1,1224.8 939.1,1214.8 940.0,1212.3 941.0,1218.6 941.8,1234.8 942.7,1256.0 943.7,1272.3 944.6,1268.5 945.2,1237.3 945.9,1212.3 946.8,1193.6 948.1,1174.9 948.9,1156.2 949.7,1137.4 950.3,1112.4 950.8,1087.5 951.3,1072.5 952.1,1067.9 952.8,1072.5 953.7,1082.5 954.4,1100.0 955.2,1124.9 955.9,1149.9 956.8,1174.9 957.7,1199.8 958.7,1224.8 959.7,1237.3 960.9,1242.3 962.2,1239.8 963.7,1231.1 964.9,1212.3 965.9,1197.3 966.8,1184.9 967.8,1180.5 968.7,1184.9 969.9,1197.3 971.2,1206.1 972.7,1211.1"/>
<rect x="142.0" y="1563.7" width="849.5" height="690.2" fill="none" stroke="#000" stroke-width="3.1"/>
<line x1="142.00" y1="2253.90" x2="142.00" y2="2267.90" stroke="#000" stroke-width="2.8"/>
<text x="142.00" y="2295.60" font-size="25.8" text-anchor="middle" font-family='"Liberation Serif", serif' font-weight="bold"  stroke="#000" stroke-width="0.45">0</text>
<line x1="184.47" y1="2253.90" x2="184.47" y2="2261.50" stroke="#000" stroke-width="2.8"/>
<line x1="226.95" y1="2253.90" x2="226.95" y2="2267.90" stroke="#000" stroke-width="2.8"/>
<text x="226.95" y="2295.60" font-size="25.8" text-anchor="middle" font-family='"Liberation Serif", serif' font-weight="bold"  stroke="#000" stroke-width="0.45">200</text>
<line x1="269.43" y1="2253.90" x2="269.43" y2="2261.50" stroke="#000" stroke-width="2.8"/>
<line x1="311.90" y1="2253.90" x2="311.90" y2="2267.90" stroke="#000" stroke-width="2.8"/>
<text x="311.90" y="2295.60" font-size="25.8" text-anchor="middle" font-family='"Liberation Serif", serif' font-weight="bold"  stroke="#000" stroke-width="0.45">400</text>
<line x1="354.38" y1="2253.90" x2="354.38" y2="2261.50" stroke="#000" stroke-width="2.8"/>
<line x1="396.85" y1="2253.90" x2="396.85" y2="2267.90" stroke="#000" stroke-width="2.8"/>
<text x="396.85" y="2295.60" font-size="25.8" text-anchor="middle" font-family='"Liberation Serif", serif' font-weight="bold"  stroke="#000" stroke-width="0.45">600</text>
<line x1="439.33" y1="2253.90" x2="439.33" y2="2261.50" stroke="#000" stroke-width="2.8"/>
<line x1="481.80" y1="2253.90" x2="481.80" y2="2267.90" stroke="#000" stroke-width="2.8"/>
<text x="481.80" y="2295.60" font-size="25.8" text-anchor="middle" font-family='"Liberation Serif", serif' font-weight="bold"  stroke="#000" stroke-width="0.45">800</text>
<line x1="524.28" y1="2253.90" x2="524.28" y2="2261.50" stroke="#000" stroke-width="2.8"/>
<line x1="566.75" y1="2253.90" x2="566.75" y2="2267.90" stroke="#000" stroke-width="2.8"/>
<text x="566.75" y="2295.60" font-size="25.8" text-anchor="middle" font-family='"Liberation Serif", serif' font-weight="bold"  stroke="#000" stroke-width="0.45">1000</text>
<line x1="609.23" y1="2253.90" x2="609.23" y2="2261.50" stroke="#000" stroke-width="2.8"/>
<line x1="651.70" y1="2253.90" x2="651.70" y2="2267.90" stroke="#000" stroke-width="2.8"/>
<text x="651.70" y="2295.60" font-size="25.8" text-anchor="middle" font-family='"Liberation Serif", serif' font-weight="bold"  stroke="#000" stroke-width="0.45">1200</text>
<line x1="694.17" y1="2253.90" x2="694.17" y2="2261.50" stroke="#000" stroke-width="2.8"/>
<line x1="736.65" y1="2253.90" x2="736.65" y2="2267.90" stroke="#000" stroke-width="2.8"/>
<text x="736.65" y="2295.60" font-size="25.8" text-anchor="middle" font-family='"Liberation Serif", serif' font-weight="bold"  stroke="#000" stroke-width="0.45">1400</text>
<line x1="779.12" y1="2253.90" x2="779.12" y2="2261.50" stroke="#000" stroke-width="2.8"/>
<line x1="821.60" y1="2253.90" x2="821.60" y2="2267.90" stroke="#000" stroke-width="2.8"/>
<text x="821.60" y="2295.60" font-size="25.8" text-anchor="middle" font-family='"Liberation Serif", serif' font-weight="bold"  stroke="#000" stroke-width="0.45">1600</text>
<line x1="864.08" y1="2253.90" x2="864.08" y2="2261.50" stroke="#000" stroke-width="2.8"/>
<line x1="906.55" y1="2253.90" x2="906.55" y2="2267.90" stroke="#000" stroke-width="2.8"/>
<text x="906.55" y="2295.60" font-size="25.8" text-anchor="middle" font-family='"Liberation Serif", serif' font-weight="bold"  stroke="#000" stroke-width="0.45">1800</text>
<line x1="949.02" y1="2253.90" x2="949.02" y2="2261.50" stroke="#000" stroke-width="2.8"/>
<line x1="991.50" y1="2253.90" x2="991.50" y2="2267.90" stroke="#000" stroke-width="2.8"/>
<text x="991.50" y="2295.60" font-size="25.8" text-anchor="middle" font-family='"Liberation Serif", serif' font-weight="bold"  stroke="#000" stroke-width="0.45">2000</text>
<line x1="142.00" y1="1563.70" x2="142.00" y2="1577.20" stroke="#000" stroke-width="2.8"/>
<line x1="226.95" y1="1563.70" x2="226.95" y2="1571.20" stroke="#000" stroke-width="2.8"/>
<line x1="311.90" y1="1563.70" x2="311.90" y2="1577.20" stroke="#000" stroke-width="2.8"/>
<line x1="396.85" y1="1563.70" x2="396.85" y2="1571.20" stroke="#000" stroke-width="2.8"/>
<line x1="481.80" y1="1563.70" x2="481.80" y2="1577.20" stroke="#000" stroke-width="2.8"/>
<line x1="566.75" y1="1563.70" x2="566.75" y2="1571.20" stroke="#000" stroke-width="2.8"/>
<line x1="651.70" y1="1563.70" x2="651.70" y2="1577.20" stroke="#000" stroke-width="2.8"/>
<line x1="736.65" y1="1563.70" x2="736.65" y2="1571.20" stroke="#000" stroke-width="2.8"/>
<line x1="821.60" y1="1563.70" x2="821.60" y2="1577.20" stroke="#000" stroke-width="2.8"/>
<line x1="906.55" y1="1563.70" x2="906.55" y2="1571.20" stroke="#000" stroke-width="2.8"/>
<line x1="991.50" y1="1563.70" x2="991.50" y2="1577.20" stroke="#000" stroke-width="2.8"/>
<line x1="134.00" y1="2245.10" x2="142.00" y2="2245.10" stroke="#000" stroke-width="3.0"/>
<line x1="127.80" y1="2200.80" x2="142.00" y2="2200.80" stroke="#000" stroke-width="3.0"/>
<text x="120.00" y="2208.50" font-size="25.6" text-anchor="end" font-family='"Liberation Serif", serif' font-weight="bold"  stroke="#000" stroke-width="0.45">0</text>
<line x1="134.00" y1="2156.50" x2="142.00" y2="2156.50" stroke="#000" stroke-width="3.0"/>
<line x1="127.80" y1="2112.20" x2="142.00" y2="2112.20" stroke="#000" stroke-width="3.0"/>
<text x="120.00" y="2119.90" font-size="25.6" text-anchor="end" font-family='"Liberation Serif", serif' font-weight="bold"  stroke="#000" stroke-width="0.45">500</text>
<line x1="134.00" y1="2067.90" x2="142.00" y2="2067.90" stroke="#000" stroke-width="3.0"/>
<line x1="127.80" y1="2023.60" x2="142.00" y2="2023.60" stroke="#000" stroke-width="3.0"/>
<text x="120.00" y="2031.30" font-size="25.6" text-anchor="end" font-family='"Liberation Serif", serif' font-weight="bold"  stroke="#000" stroke-width="0.45">1000</text>
<line x1="134.00" y1="1979.30" x2="142.00" y2="1979.30" stroke="#000" stroke-width="3.0"/>
<line x1="127.80" y1="1935.00" x2="142.00" y2="1935.00" stroke="#000" stroke-width="3.0"/>
<text x="120.00" y="1942.70" font-size="25.6" text-anchor="end" font-family='"Liberation Serif", serif' font-weight="bold"  stroke="#000" stroke-width="0.45">1500</text>
<line x1="134.00" y1="1890.70" x2="142.00" y2="1890.70" stroke="#000" stroke-width="3.0"/>
<line x1="127.80" y1="1846.40" x2="142.00" y2="1846.40" stroke="#000" stroke-width="3.0"/>
<text x="120.00" y="1854.10" font-size="25.6" text-anchor="end" font-family='"Liberation Serif", serif' font-weight="bold"  stroke="#000" stroke-width="0.45">2000</text>
<line x1="134.00" y1="1802.10" x2="142.00" y2="1802.10" stroke="#000" stroke-width="3.0"/>
<line x1="127.80" y1="1757.80" x2="142.00" y2="1757.80" stroke="#000" stroke-width="3.0"/>
<text x="120.00" y="1765.50" font-size="25.6" text-anchor="end" font-family='"Liberation Serif", serif' font-weight="bold"  stroke="#000" stroke-width="0.45">2500</text>
<line x1="134.00" y1="1713.50" x2="142.00" y2="1713.50" stroke="#000" stroke-width="3.0"/>
<line x1="127.80" y1="1669.20" x2="142.00" y2="1669.20" stroke="#000" stroke-width="3.0"/>
<text x="120.00" y="1676.90" font-size="25.6" text-anchor="end" font-family='"Liberation Serif", serif' font-weight="bold"  stroke="#000" stroke-width="0.45">3000</text>
<line x1="134.00" y1="1624.90" x2="142.00" y2="1624.90" stroke="#000" stroke-width="3.0"/>
<line x1="127.80" y1="1580.60" x2="142.00" y2="1580.60" stroke="#000" stroke-width="3.0"/>
<text x="120.00" y="1588.30" font-size="25.6" text-anchor="end" font-family='"Liberation Serif", serif' font-weight="bold"  stroke="#000" stroke-width="0.45">3500</text>
<line x1="977.50" y1="1563.70" x2="991.50" y2="1563.70" stroke="#000" stroke-width="2.5"/>
<line x1="983.50" y1="1632.72" x2="991.50" y2="1632.72" stroke="#000" stroke-width="2.5"/>
<line x1="977.50" y1="1701.74" x2="991.50" y2="1701.74" stroke="#000" stroke-width="2.5"/>
<line x1="983.50" y1="1770.76" x2="991.50" y2="1770.76" stroke="#000" stroke-width="2.5"/>
<line x1="977.50" y1="1839.78" x2="991.50" y2="1839.78" stroke="#000" stroke-width="2.5"/>
<line x1="983.50" y1="1908.80" x2="991.50" y2="1908.80" stroke="#000" stroke-width="2.5"/>
<line x1="977.50" y1="1977.82" x2="991.50" y2="1977.82" stroke="#000" stroke-width="2.5"/>
<line x1="983.50" y1="2046.84" x2="991.50" y2="2046.84" stroke="#000" stroke-width="2.5"/>
<line x1="977.50" y1="2115.86" x2="991.50" y2="2115.86" stroke="#000" stroke-width="2.5"/>
<line x1="983.50" y1="2184.88" x2="991.50" y2="2184.88" stroke="#000" stroke-width="2.5"/>
<line x1="977.50" y1="2253.90" x2="991.50" y2="2253.90" stroke="#000" stroke-width="2.5"/>
<text x="590.10" y="2346.60" font-size="30.7" text-anchor="middle" font-family='"Liberation Serif", serif' font-weight="normal" >Micron</text>
<text transform="translate(37.2,1909.5) rotate(-90)" font-size="29.5" text-anchor="middle" font-family='"Liberation Serif", serif' font-weight="bold" stroke="#000" stroke-width="0.45">Nanometer</text>
<text x="158.70" y="1605.30" font-size="26.6" text-anchor="start" font-family='"Liberation Sans", sans-serif' font-weight="bold" >C)</text>
<text x="776.30" y="1614.20" font-size="30.3" text-anchor="start" font-family='"Liberation Sans", sans-serif' font-weight="normal" textLength="192.3" lengthAdjust="spacingAndGlyphs">Zn 100 - Tb 0</text>
<polyline fill="none" stroke="#000" stroke-width="2.5" stroke-linejoin="round" points="142.0,1733.6 143.4,1716.9 144.7,1703.5 146.0,1694.4 147.5,1691.8 149.2,1693.2 150.9,1694.4 151.7,1705.2 153.1,1723.6 154.2,1735.3 155.4,1740.3 156.7,1741.2 158.1,1740.3 159.4,1747.0 160.9,1762.1 162.2,1773.8 163.4,1782.1 164.4,1788.0 165.4,1777.1 166.8,1774.6 168.1,1779.6 169.4,1775.4 170.8,1778.8 171.8,1788.8 173.1,1795.8 174.3,1785.5 175.6,1768.7 177.1,1760.4 178.1,1759.0 179.3,1767.1 180.5,1778.8 181.8,1783.8 183.1,1777.1 184.7,1765.4 186.0,1758.7 187.7,1753.7 189.3,1747.0 190.7,1745.3 191.8,1750.3 193.0,1763.7 194.3,1783.8 195.7,1803.8 196.8,1822.2 198.2,1835.6 199.4,1839.8 200.5,1837.3 201.9,1823.9 203.0,1810.5 204.4,1805.5 205.5,1793.8 206.5,1780.4 207.7,1783.8 208.6,1800.5 209.7,1822.2 211.1,1839.0 212.2,1855.7 213.6,1870.7 214.6,1880.4 215.6,1864.0 216.6,1839.0 217.6,1826.4 218.6,1823.9 219.6,1830.6 220.6,1838.1 221.6,1830.6 223.1,1833.1 224.4,1832.3 225.4,1842.3 226.6,1837.3 227.4,1822.2 228.6,1818.9 229.4,1825.6 230.3,1818.9 231.1,1824.7 231.9,1797.2 232.8,1813.9 233.6,1795.5 234.8,1825.6 235.6,1805.5 236.6,1788.8 237.8,1772.1 239.0,1747.0 240.0,1713.6 241.2,1691.8 242.3,1684.8 243.7,1688.5 245.3,1695.2 246.5,1710.2 247.5,1738.7 248.7,1772.1 249.5,1805.5 250.3,1819.7 251.7,1818.9 253.3,1817.2 254.5,1803.8 255.7,1801.3 257.0,1805.5 258.4,1817.2 260.0,1813.9 261.4,1813.0 262.4,1827.2 263.4,1839.0 265.1,1841.0 266.7,1838.1 268.1,1842.3 269.1,1836.4 270.4,1835.3 271.6,1844.0 272.6,1862.3 273.7,1872.4 275.1,1890.8 276.2,1905.8 277.1,1917.8 278.4,1915.0 279.8,1913.3 280.8,1904.1 281.6,1877.4 282.9,1872.4 284.3,1869.0 285.4,1862.3 286.4,1847.3 287.4,1830.6 288.4,1828.1 289.8,1844.0 290.8,1828.9 291.8,1813.9 293.0,1788.8 294.1,1767.1 295.1,1750.3 296.0,1744.2 296.8,1755.4 298.0,1780.4 299.1,1805.5 300.1,1827.2 301.3,1835.9 300.8,1835.6 302.0,1813.9 303.3,1803.0 305.0,1804.7 306.0,1822.2 307.5,1833.9 308.7,1847.3 310.0,1867.4 311.2,1875.7 312.5,1875.7 313.7,1868.2 314.7,1872.4 315.6,1889.1 316.4,1914.2 317.2,1930.0 317.3,1939.3 319.1,1988.5 321.0,2037.7 323.0,2086.8 325.2,2126.2 327.1,2155.7 328.5,2173.3 329.9,2183.2 332.4,2187.1 336.4,2192.0 340.3,2193.4 349.2,2193.8 359.0,2195.0 365.9,2195.6 368.8,2199.5 371.8,2200.9 388.5,2200.9 418.0,2201.3 447.5,2201.3 471.1,2201.3 472.7,2195.0 474.0,2165.5 475.6,2126.2 477.4,2077.0 479.0,2037.7 480.5,1998.3 482.3,1959.0 484.9,1925.6 487.8,1900.0 488.4,1884.1 490.1,1862.4 492.1,1854.0 494.2,1845.7 496.8,1839.0 498.4,1840.3 500.1,1835.6 501.3,1820.6 502.6,1787.2 503.8,1767.1 504.8,1755.4 505.6,1750.7 506.8,1758.7 508.5,1767.1 509.3,1787.2 510.1,1820.6 511.3,1849.0 512.6,1855.4 514.3,1853.2 516.5,1845.7 518.2,1820.6 519.8,1787.2 521.3,1753.7 522.7,1720.3 523.8,1690.2 525.5,1670.2 527.2,1656.8 528.5,1648.4 529.7,1630.0 530.7,1625.8 531.9,1640.1 532.7,1653.4 533.9,1670.2 535.2,1683.5 536.9,1693.5 538.2,1710.3 539.4,1727.0 540.7,1738.7 542.2,1745.4 543.6,1752.1 544.7,1770.4 546.1,1795.5 547.2,1817.2 548.6,1835.6 549.8,1834.0 551.1,1828.1 552.3,1835.6 553.6,1844.0 554.8,1845.3 556.1,1829.0 557.3,1787.2 558.6,1753.7 559.8,1740.3 561.1,1727.0 562.5,1725.3 563.6,1727.0 564.8,1722.8 566.1,1730.3 567.5,1731.2 568.5,1720.3 569.5,1704.4 570.5,1720.3 571.5,1753.7 572.5,1795.5 573.3,1820.6 574.1,1824.4 575.7,1820.6 577.0,1803.9 577.8,1787.2 578.7,1770.4 579.5,1788.8 580.3,1773.8 581.2,1801.4 582.0,1770.4 583.0,1750.4 584.0,1746.2 585.0,1753.7 586.2,1787.2 587.4,1803.9 588.4,1814.7 589.5,1810.6 590.7,1812.2 592.0,1818.9 593.4,1820.6 594.5,1822.3 595.7,1829.0 596.7,1844.0 597.9,1837.3 599.1,1825.6 600.1,1837.3 601.2,1853.2 602.4,1837.3 603.4,1812.2 604.6,1802.2 605.8,1798.0 607.1,1798.9 608.2,1807.2 609.3,1820.6 610.4,1823.1 611.6,1821.4 612.9,1830.6 614.1,1825.6 615.4,1835.6 616.6,1845.7 618.0,1837.3 619.1,1823.9 620.5,1812.2 621.6,1797.2 623.0,1791.3 624.1,1793.0 625.5,1797.2 626.6,1800.5 627.6,1829.0 628.8,1854.0 629.8,1865.7 630.8,1857.4 631.8,1855.7 633.3,1874.0 634.5,1883.2 635.5,1869.0 636.7,1843.9 637.7,1827.2 638.7,1823.8 639.7,1830.5 641.0,1836.8 642.0,1818.8 643.4,1797.1 644.7,1789.5 645.5,1788.4 646.7,1793.7 647.9,1807.1 649.2,1820.5 650.4,1843.9 651.4,1869.0 652.6,1894.0 653.7,1919.1 654.7,1944.2 655.6,1952.9 656.8,1944.2 657.6,1927.5 658.4,1905.7 659.8,1902.4 661.1,1892.3 662.1,1869.0 663.1,1835.5 664.1,1802.1 665.1,1768.7 666.1,1759.5 667.1,1762.0 668.1,1772.0 669.5,1776.5 670.8,1772.8 672.1,1773.7 673.1,1787.0 674.3,1810.4 675.5,1828.8 676.8,1838.0 678.0,1835.5 679.0,1823.8 680.1,1814.6 681.1,1820.5 682.1,1837.2 683.2,1853.9 684.3,1858.1 685.5,1855.6 686.8,1847.2 688.2,1839.7 689.3,1842.2 690.5,1852.2 691.5,1853.6 692.7,1848.9 693.9,1835.5 695.2,1813.8 696.5,1787.0 697.7,1760.3 698.9,1726.9 700.2,1724.4 701.5,1730.2 702.7,1743.6 703.9,1763.6 705.2,1787.0 706.4,1802.1 707.4,1793.7 708.2,1780.3 709.2,1793.7 710.2,1810.4 711.4,1827.2 712.4,1838.9 713.6,1841.9 714.9,1835.5 715.9,1831.3 716.9,1840.5 718.1,1860.6 719.4,1885.7 720.6,1905.7 721.9,1920.8 723.1,1925.8 724.1,1917.4 725.3,1894.0 726.5,1867.3 727.5,1877.3 728.6,1897.4 729.8,1914.1 730.5,1919.9 731.5,1910.7 732.5,1897.4 733.6,1888.7 734.5,1897.4 735.3,1905.7 736.5,1890.7 737.5,1869.0 738.6,1852.2 739.8,1835.5 741.2,1823.8 742.3,1815.5 743.7,1807.1 744.5,1806.3 745.3,1813.8 746.5,1835.5 747.5,1857.2 748.7,1877.3 750.0,1894.0 751.4,1905.7 752.4,1897.4 753.4,1889.8 754.5,1892.3 755.7,1897.0 757.0,1894.9 758.7,1892.3 760.0,1890.7 760.9,1877.3 761.7,1852.2 762.6,1818.8 763.4,1798.7 764.2,1790.4 765.4,1795.4 766.7,1810.4 767.9,1827.2 768.7,1829.7 769.9,1825.5 770.9,1810.4 772.1,1803.8 773.4,1799.6 774.8,1797.4 775.8,1805.4 776.8,1827.2 777.9,1847.2 779.1,1860.6 780.4,1870.6 781.6,1879.0 782.6,1872.3 783.8,1880.7 784.8,1886.8 785.8,1877.3 786.8,1843.9 788.0,1827.2 789.6,1823.8 790.8,1813.8 791.8,1811.3 793.0,1816.3 794.6,1816.8 795.8,1802.1 796.8,1768.7 797.7,1750.3 798.8,1747.8 799.7,1760.3 800.5,1773.7 801.4,1781.2 803.0,1784.5 804.7,1785.7 805.5,1793.7 806.4,1810.4 807.5,1827.2 808.7,1833.8 810.0,1833.5 811.2,1831.3 812.2,1843.9 813.0,1860.6 813.9,1875.6 815.1,1882.0 816.1,1869.0 817.1,1843.9 817.9,1818.8 818.7,1797.1 819.6,1783.7 820.4,1782.0 821.4,1790.4 822.4,1798.7 823.4,1792.1 824.6,1789.5 825.6,1792.1 826.4,1768.7 827.3,1740.2 828.1,1724.4 828.9,1723.2 829.8,1730.2 830.6,1743.6 831.4,1767.0 832.3,1793.7 833.1,1817.1 834.3,1826.3 835.5,1820.5 836.5,1818.0 837.6,1827.2 838.8,1843.9 839.8,1869.0 841.0,1894.0 842.1,1915.8 843.1,1934.1 843.8,1937.8 844.6,1927.5 845.5,1902.4 846.3,1869.0 847.1,1827.2 848.0,1793.7 848.8,1780.3 849.7,1778.7 850.7,1793.7 851.8,1807.1 853.0,1802.1 854.0,1801.2 855.2,1810.4 856.4,1827.2 857.4,1847.2 858.5,1877.3 859.5,1899.0 860.2,1909.4 861.0,1885.7 861.9,1852.2 862.7,1837.2 863.5,1833.0 864.4,1834.7 865.2,1843.9 866.4,1860.6 867.4,1863.1 868.5,1858.1 869.5,1865.6 870.6,1875.6 871.4,1869.0 872.4,1843.9 873.2,1823.8 874.2,1815.5 875.2,1817.1 876.4,1823.8 877.4,1837.2 878.6,1852.2 879.8,1861.9 880.8,1858.9 881.9,1847.2 883.1,1840.5 884.4,1835.5 885.6,1818.8 886.4,1793.7 887.4,1791.2 888.6,1790.4 889.8,1793.7 890.8,1810.4 892.0,1828.0 893.1,1820.5 894.1,1812.1 895.3,1813.0 896.3,1823.8 897.3,1843.9 898.3,1869.0 899.5,1894.0 900.3,1915.8 901.3,1931.1 902.3,1924.1 903.3,1910.7 904.3,1894.0 905.3,1882.3 906.5,1880.3 907.5,1884.0 908.7,1889.8 909.5,1869.0 910.3,1843.9 911.3,1818.8 912.4,1793.7 913.4,1775.3 914.2,1773.7 915.0,1780.3 915.9,1793.7 916.7,1818.8 917.9,1843.9 919.0,1857.2 920.4,1872.3 921.5,1885.7 922.4,1893.7 923.2,1877.3 924.2,1852.2 925.4,1840.5 926.5,1842.2 927.6,1850.6 928.4,1835.5 929.2,1810.4 930.1,1793.7 931.1,1785.4 932.1,1792.1 932.9,1810.4 933.7,1835.5 934.6,1860.6 935.2,1878.1 936.1,1891.8 937.1,1897.5 938.2,1891.8 939.3,1889.0 940.6,1887.7 941.6,1875.4 942.5,1861.8 943.6,1857.7 944.7,1856.3 945.4,1845.4 946.4,1831.8 947.3,1825.0 948.1,1834.5 948.8,1844.0 949.5,1850.9 950.2,1840.0 951.1,1820.9 952.1,1804.5 953.2,1800.2 954.3,1803.2 955.2,1811.3 955.9,1827.7 956.6,1848.1 957.3,1875.4 958.0,1902.7 958.6,1929.9 959.3,1957.2 960.3,1984.4 961.4,2011.7 962.5,2038.9 963.3,2059.4 964.1,2068.7 964.9,2059.4 965.7,2038.9 966.5,2011.7 967.5,1984.4 968.5,1957.2 969.5,1929.9 970.6,1909.5 971.6,1889.0 972.5,1872.7 973.4,1866.1 974.3,1872.7 975.3,1889.0 976.4,1902.7 977.5,1916.3 978.4,1929.9 979.5,1940.8 980.5,1949.0 981.4,1936.7 982.2,1916.3 983.2,1889.0 984.1,1868.6 985.0,1860.4 985.9,1857.0 987.0,1860.4 988.1,1859.7 988.9,1850.9 989.7,1838.6 990.7,1831.8"/>
</svg></body></html>
